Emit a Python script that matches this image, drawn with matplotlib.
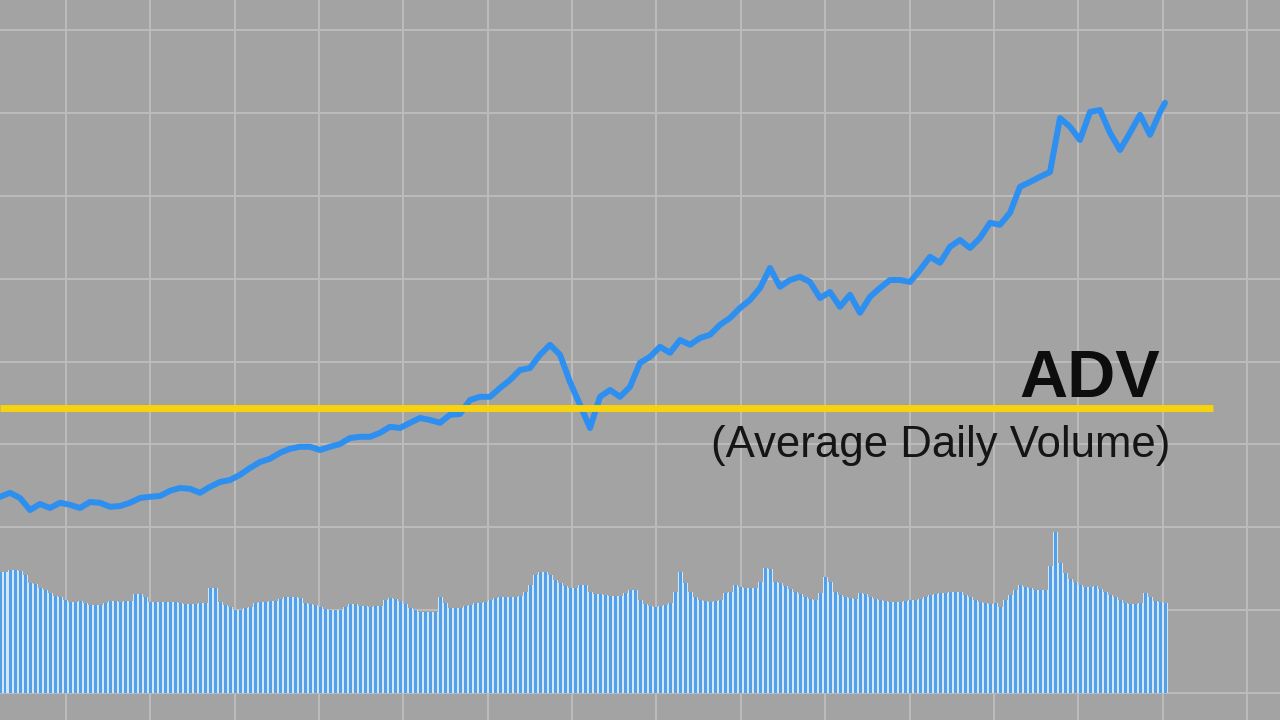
import numpy as np
import matplotlib
matplotlib.use("Agg")
import matplotlib.pyplot as plt

# Weekly closing price, sampled every 2 weeks (last point = week 233)
price = [55.8, 56.8, 55.5, 52.5, 54.0, 53.0, 54.3, 53.8, 53.0, 54.5,
         54.3, 53.3, 53.5, 54.3, 55.5, 55.8, 56.0, 57.3, 58.0, 57.8,
         56.8, 58.3, 59.5, 60.0, 61.3, 63.0, 64.5, 65.3, 66.8, 67.8,
         68.3, 68.3, 67.5, 68.3, 69.0, 70.5, 70.8, 70.8, 71.8, 73.3,
         73.0, 74.3, 75.5, 75.0, 74.3, 76.3, 76.5, 80.0, 80.8, 80.8,
         83.0, 85.0, 87.5, 88.0, 91.3, 93.8, 91.3, 84.5, 78.8, 73.0,
         80.8, 82.5, 80.8, 83.3, 89.3, 90.8, 93.3, 91.8, 95.0, 93.8,
         95.5, 96.3, 98.8, 100.5, 103.0, 105.0, 108.0, 113.0, 108.3, 110.0,
         110.8, 109.5, 105.5, 107.0, 103.3, 106.3, 101.8, 105.8, 108.0, 110.0,
         110.0, 109.5, 112.5, 115.8, 114.3, 118.3, 120.0, 118.0, 120.5, 124.3,
         123.8, 126.8, 133.3, 134.5, 135.8, 137.0, 150.5, 148.3, 145.0, 152.0,
         152.5, 146.8, 142.5, 146.8, 151.3, 146.3, 152.0, 154.3]
price_weeks = list(range(0, 2 * (len(price) - 1), 2)) + [233]

# Weekly volume (arbitrary units)
volume = [121, 121, 123, 123, 122, 118, 110, 109, 105, 103,
          100, 97, 96, 93, 91, 91, 92, 90, 88, 88,
          88, 90, 92, 92, 91, 92, 92, 99, 99, 96,
          91, 91, 91, 91, 91, 91, 90, 89, 89, 89,
          90, 90, 105, 105, 91, 88, 86, 83, 83, 85,
          86, 90, 91, 91, 92, 92, 94, 96, 96, 96,
          95, 90, 89, 88, 86, 84, 83, 83, 83, 86,
          89, 89, 87, 87, 86, 87, 87, 93, 95, 94,
          92, 89, 85, 83, 81, 81, 81, 81, 96, 90,
          85, 85, 85, 87, 88, 90, 90, 91, 93, 95,
          96, 96, 96, 96, 97, 101, 108, 118, 121, 121,
          118, 113, 110, 107, 105, 105, 108, 108, 101, 99,
          99, 98, 97, 97, 97, 100, 103, 103, 93, 89,
          87, 86, 87, 88, 90, 101, 121, 110, 101, 96,
          93, 92, 91, 92, 93, 100, 101, 108, 106, 105,
          105, 105, 111, 125, 124, 111, 110, 107, 104, 101,
          99, 96, 94, 93, 100, 116, 111, 101, 98, 96,
          95, 94, 100, 99, 96, 94, 93, 92, 91, 91,
          91, 92, 93, 93, 94, 96, 98, 99, 100, 100,
          101, 101, 101, 98, 96, 93, 91, 90, 89, 90,
          86, 93, 98, 103, 108, 106, 105, 103, 103, 103,
          127, 161, 130, 120, 114, 111, 108, 106, 106, 107,
          104, 101, 98, 96, 93, 90, 89, 89, 90, 100,
          96, 92, 91, 90]
vol_weeks = np.arange(len(volume))

adv_level = 78.0
adv_end_week = 242.6

bg = "#a3a3a3"
fig = plt.figure(figsize=(12.8, 7.2), dpi=100, facecolor=bg)
ax = fig.add_axes([0, 0, 1, 1])
ax.set_facecolor(bg)

# grid
ax.set_xticks(13.2 + 16.87 * np.arange(15))
ax.set_yticks(172.5 - 20.72 * np.arange(9))
ax.grid(True, color="#bcbcbc", linewidth=1.4)
ax.set_axisbelow(True)
ax.tick_params(length=0, labelbottom=False, labelleft=False)
for s in ax.spines.values():
    s.set_visible(False)

ax.plot(price_weeks, price, color="#2d8ff0", linewidth=4.3,
        solid_joinstyle="round", solid_capstyle="round", zorder=3)
ax.hlines(adv_level, 0, adv_end_week, color="#f7d20e", linewidth=5, zorder=4)

ax.text(232, 80.75, "ADV", ha="right", va="baseline", fontsize=48,
        fontweight="bold", family="Liberation Sans", color="#0d0d0d", zorder=5)
ax.text(234, 65.75, "(Average Daily Volume)", ha="right", va="baseline",
        fontsize=31.5, family="Liberation Sans", color="#151515", zorder=5)

ax.set_xlim(0, 256)
ax.set_ylim(0, 180)

# volume bars: pale full-width bars with narrower blue bars on top
vax = ax.twinx()
vax.bar(vol_weeks, volume, width=1.0, color="#d3e7f9", linewidth=0)
vax.bar(vol_weeks, volume, width=0.6, color="#52a0ea", linewidth=0)
vax.set_ylim(-27, 693)
vax.set_xlim(0, 256)
vax.axis("off")

fig.savefig("out.png", dpi=100, facecolor=bg)
